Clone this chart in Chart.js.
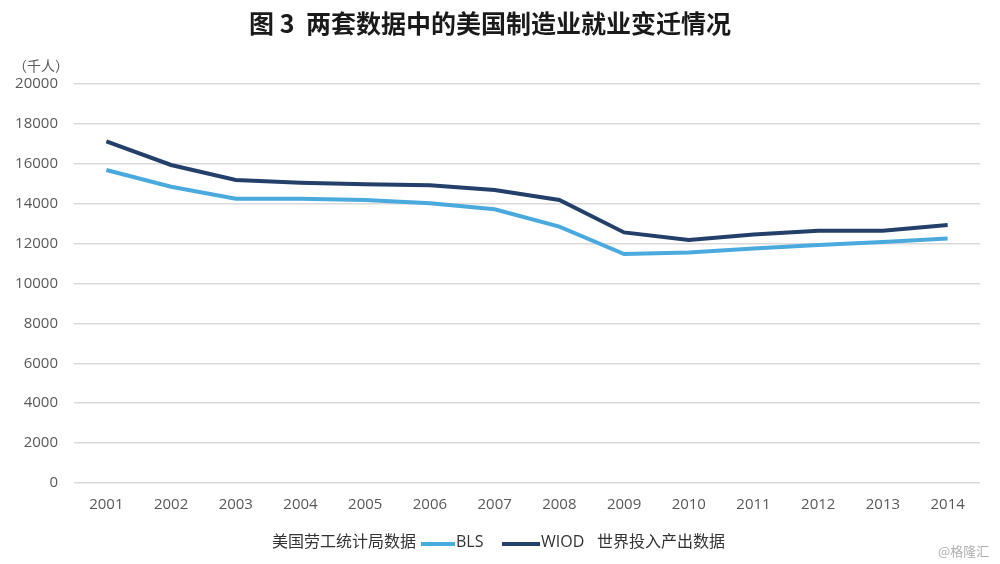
<!DOCTYPE html>
<html>
<head>
<meta charset="utf-8">
<script src="https://cdn.jsdelivr.net/npm/chart.js@4"></script>
<style>
  body { margin: 0; background: #fff; font-family: "Noto Sans CJK SC", "Open Sans", sans-serif; }
  #wrap { position: relative; width: 1000px; height: 564px; }
  #chart { position: absolute; left: 0; top: 0; }
  .txt { position: absolute; white-space: nowrap; line-height: 1; }
  #title { left: 0; width: 980px; top: 10px; text-align: center; font-size: 25px; font-weight: bold; color: #1a1a1a; }
  #unit { left: 13px; top: 58px; font-size: 14px; color: #595959; }
  .leg { top: 532px; font-size: 16px; color: #333; }
  .lbl { font-family: "Open Sans", sans-serif; top: 533px; }
  .swatch { position: absolute; top: 542px; height: 4px; }
  #mark { left: 938px; top: 544px; font-size: 13px; color: #b0b0b0; }
</style>
</head>
<body>
<div id="wrap">
  <canvas id="chart" width="1000" height="564"></canvas>
  <div class="txt" id="title">图 3&nbsp; 两套数据中的美国制造业就业变迁情况</div>
  <div class="txt" id="unit">（千人）</div>
  <div class="txt leg" style="left:272px">美国劳工统计局数据</div>
  <div class="swatch" style="left:421px; width:34px; background:#4aa9dd"></div>
  <div class="txt leg lbl" style="left:456px">BLS</div>
  <div class="swatch" style="left:502px; width:38px; background:#24406a"></div>
  <div class="txt leg lbl" style="left:541px">WIOD</div>
  <div class="txt leg" style="left:597px">世界投入产出数据</div>
  <div class="txt" id="mark">@格隆汇</div>
</div>
<script>
const years = ["2001", "2002", "2003", "2004", "2005", "2006", "2007",
  "2008", "2009", "2010", "2011", "2012", "2013", "2014"];
const blsValues = [15690, 14850, 14250, 14250, 14190, 14020, 13720,
  12850, 11480, 11560, 11760, 11930, 12080, 12250];
const wiodValues = [17120, 15940, 15190, 15050, 14970, 14920, 14690,
  14190, 12560, 12180, 12460, 12650, 12650, 12930];
const yTicks = [0, 2000, 4000, 6000, 8000, 10000, 12000, 14000, 16000, 18000, 20000];

const tickFont = { family: "Open Sans", size: 15 };

new Chart(document.getElementById("chart"), {
  type: "line",
  data: {
    labels: years,
    datasets: [
      { label: "BLS", data: blsValues, borderColor: "#4aa9dd", borderWidth: 4, pointRadius: 0, tension: 0 },
      { label: "WIOD", data: wiodValues, borderColor: "#24406a", borderWidth: 4, pointRadius: 0, tension: 0 },
    ],
  },
  options: {
    responsive: false,
    animation: false,
    layout: { padding: { top: 84, right: 20, left: 0, bottom: 0 } },
    plugins: { legend: { display: false }, tooltip: { enabled: false } },
    scales: {
      x: {
        offset: true,
        grid: { display: false, drawTicks: false },
        border: { display: false },
        ticks: { color: "#595959", font: tickFont, padding: 13, maxRotation: 0 },
        afterFit: (s) => { s.height = 81; },
      },
      y: {
        min: 0,
        max: 20000,
        afterBuildTicks: (s) => { s.ticks = yTicks.map((v) => ({ value: v })); },
        grid: { color: "#d9d9d9", lineWidth: 1.5, drawTicks: false },
        border: { display: false },
        ticks: { color: "#595959", font: tickFont, padding: 16, callback: (v) => String(v) },
        afterFit: (s) => { s.width = 74; },
      },
    },
  },
});
</script>
</body>
</html>
